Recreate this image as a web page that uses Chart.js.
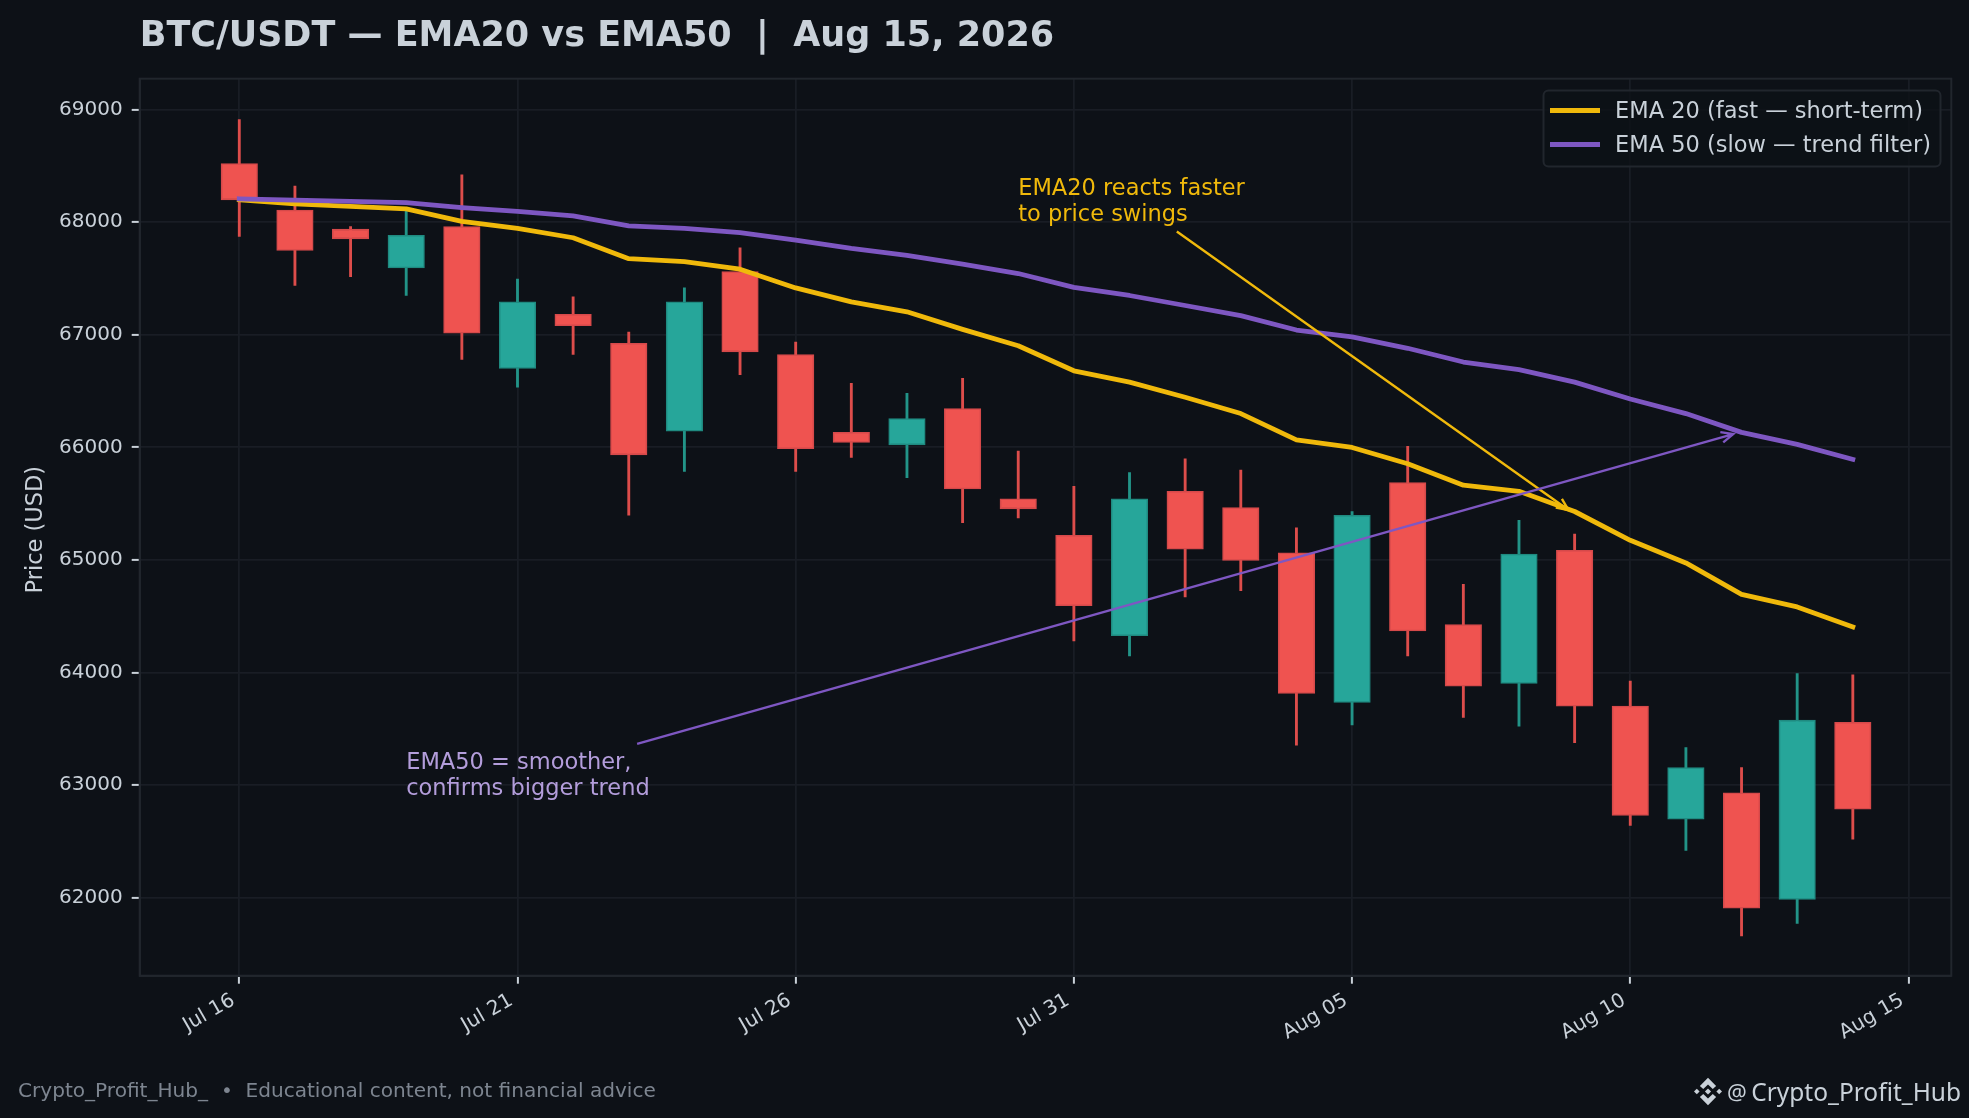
<!DOCTYPE html>
<html>
<head>
<meta charset="utf-8">
<title>BTC/USDT EMA20 vs EMA50</title>
<script src="https://cdn.jsdelivr.net/npm/chart.js@4/dist/chart.umd.min.js"></script>
<style>
    html, body { margin: 0; padding: 0; background: #0d1117; }
    canvas { display: block; }
</style>
</head>
<body>
<canvas id="chart" width="1969" height="1118"></canvas>
<script>
const days = [0, 1, 2, 3, 4, 5, 6, 7, 8, 9, 10, 11, 12, 13, 14, 15, 16, 17, 18, 19, 20, 21, 22, 23, 24, 25, 26, 27, 28, 29];
const opens = [68521, 68108, 67940, 67594, 67962, 66702, 67182, 66925, 66144, 67561, 66825, 66133, 66021, 66345, 65542, 65218, 64326, 65609, 65464, 65062, 63734, 65687, 64426, 63902, 65084, 63701, 62697, 62931, 61983, 63556];
const closes = [68197, 67750, 67851, 67884, 67014, 67293, 67081, 65932, 67293, 66847, 65988, 66044, 66256, 65631, 65452, 64593, 65542, 65095, 64995, 63813, 65397, 64370, 63879, 65051, 63701, 62730, 63154, 61905, 63578, 62786];
const highs = [68911, 68320, 67962, 68096, 68420, 67494, 67338, 67025, 67416, 67773, 66936, 66568, 66479, 66613, 65966, 65653, 65776, 65899, 65798, 65285, 65430, 66010, 64783, 65352, 65229, 63924, 63333, 63154, 63991, 63980];
const lows = [67873, 67438, 67516, 67349, 66780, 66535, 66825, 65397, 65787, 66646, 65787, 65910, 65731, 65330, 65374, 64281, 64147, 64672, 64727, 63355, 63534, 64147, 63601, 63522, 63377, 62641, 62418, 61659, 61771, 62518];
const ema20 = [68200, 68163, 68141, 68119, 68007, 67945, 67862, 67676, 67650, 67583, 67416, 67293, 67204, 67048, 66903, 66680, 66579, 66445, 66300, 66066, 65999, 65854, 65664, 65609, 65430, 65174, 64973, 64694, 64582, 64404];
const ema50 = [68208, 68197, 68186, 68174, 68130, 68096, 68056, 67968, 67946, 67907, 67840, 67767, 67706, 67628, 67544, 67421, 67349, 67260, 67170, 67042, 66981, 66880, 66758, 66691, 66579, 66429, 66300, 66133, 66026, 65893];
const tickDays = [0, 5, 10, 15, 20, 25, 30];
const tickLabels = ['Jul 16', 'Jul 21', 'Jul 26', 'Jul 31', 'Aug 05', 'Aug 10', 'Aug 15'];
const priceTicks = [62000, 63000, 64000, 65000, 66000, 67000, 68000, 69000];

const titleText = 'BTC/USDT \u2014 EMA20 vs EMA50  |  Aug 15, 2026';
const footerText = 'Crypto_Profit_Hub_  \u2022  Educational content, not financial advice';
const handleAt = '@';
const handleText = 'Crypto_Profit_Hub';
const yTitle = 'Price (USD)';
const label20 = 'EMA 20 (fast \u2014 short-term)';
const label50 = 'EMA 50 (slow \u2014 trend filter)';

// annotation text and arrow ends in data units
const fastNote = ['EMA20 reacts faster', 'to price swings'];
const fastNoteAt = [14, 68290];
const fastArrow = [[16.85, 67918], [23.89, 65443]];
const slowNote = ['EMA50 = smoother,', 'confirms bigger trend'];
const slowNoteAt = [3, 63190];
const slowArrow = [[7.15, 63366], [26.85, 66118]];

const BG = '#0d1117';
const GRID = '#191d25';
const SPINE = '#21262d';
const TEXT = '#c9d1d9';
const RED = '#ef5350';
const GREEN = '#26a69a';
const YELLOW = '#f0b90b';
const PURPLE = '#7e57c2';

function candleColor(i, up, down) {
    return closes[i] >= opens[i] ? up : down;
}

function arrow(ctx, x0, y0, x1, y1, color) {
    let a = Math.atan2(y1 - y0, x1 - x0);
    ctx.strokeStyle = color;
    ctx.lineWidth = 2.4;
    ctx.lineJoin = 'miter';
    ctx.beginPath();
    ctx.moveTo(x0, y0);
    ctx.lineTo(x1, y1);
    ctx.moveTo(x1 - 13 * Math.cos(a - 0.42), y1 - 13 * Math.sin(a - 0.42));
    ctx.lineTo(x1, y1);
    ctx.lineTo(x1 - 13 * Math.cos(a + 0.42), y1 - 13 * Math.sin(a + 0.42));
    ctx.stroke();
}

function binanceLogo(ctx, cx, cy, s) {
    // small diamond in the middle, two at the sides, chevrons top and bottom
    ctx.fillStyle = TEXT;
    [[0, 0, 0.22], [-0.8, 0, 0.2], [0.8, 0, 0.2]].forEach(d => {
        ctx.beginPath();
        ctx.moveTo(cx + d[0] * s, cy - d[2] * s);
        ctx.lineTo(cx + (d[0] + d[2]) * s, cy);
        ctx.lineTo(cx + d[0] * s, cy + d[2] * s);
        ctx.lineTo(cx + (d[0] - d[2]) * s, cy);
        ctx.fill();
    });
    [-1, 1].forEach(k => {
        ctx.beginPath();
        ctx.moveTo(cx, cy + k * 0.98 * s);
        ctx.lineTo(cx + 0.58 * s, cy + k * 0.4 * s);
        ctx.lineTo(cx + 0.34 * s, cy + k * 0.17 * s);
        ctx.lineTo(cx, cy + k * 0.5 * s);
        ctx.lineTo(cx - 0.34 * s, cy + k * 0.17 * s);
        ctx.lineTo(cx - 0.58 * s, cy + k * 0.4 * s);
        ctx.fill();
    });
}

const decorations = {
    id: 'decorations',
    beforeDraw(chart) {
        let ctx = chart.ctx;
        ctx.save();
        ctx.fillStyle = BG;
        ctx.fillRect(0, 0, chart.width, chart.height);
        ctx.restore();
    },
    afterDraw(chart) {
        let ctx = chart.ctx;
        let area = chart.chartArea;
        let x = chart.scales.x;
        let y = chart.scales.y;
        ctx.save();

        // frame
        ctx.strokeStyle = SPINE;
        ctx.lineWidth = 2;
        ctx.strokeRect(area.left, area.top, area.right - area.left, area.bottom - area.top);

        // arrows
        arrow(ctx, x.getPixelForValue(fastArrow[0][0]), y.getPixelForValue(fastArrow[0][1]),
            x.getPixelForValue(fastArrow[1][0]), y.getPixelForValue(fastArrow[1][1]), YELLOW);
        arrow(ctx, x.getPixelForValue(slowArrow[0][0]), y.getPixelForValue(slowArrow[0][1]),
            x.getPixelForValue(slowArrow[1][0]), y.getPixelForValue(slowArrow[1][1]), PURPLE);

        // notes
        ctx.font = '22.5px "DejaVu Sans"';
        ctx.textAlign = 'left';
        ctx.textBaseline = 'middle';
        ctx.fillStyle = YELLOW;
        fastNote.forEach((line, i) => {
            ctx.fillText(line, x.getPixelForValue(fastNoteAt[0]), y.getPixelForValue(fastNoteAt[1]) + i * 25.2);
        });
        ctx.fillStyle = '#b39ddb';
        slowNote.forEach((line, i) => {
            ctx.fillText(line, x.getPixelForValue(slowNoteAt[0]), y.getPixelForValue(slowNoteAt[1]) + i * 25.2);
        });

        // legend
        ctx.fillStyle = 'rgba(13, 17, 23, 0.8)';
        ctx.strokeStyle = SPINE;
        ctx.lineWidth = 2;
        ctx.beginPath();
        ctx.roundRect(1543.5, 90.5, 397, 76, 5);
        ctx.fill();
        ctx.stroke();
        ctx.font = '22.5px "DejaVu Sans"';
        ctx.fillStyle = TEXT;
        ctx.fillText(label20, 1615, 112.5);
        ctx.fillText(label50, 1615, 146.5);
        ctx.lineWidth = 5;
        ctx.strokeStyle = YELLOW;
        ctx.beginPath();
        ctx.moveTo(1550, 110.5);
        ctx.lineTo(1600, 110.5);
        ctx.stroke();
        ctx.strokeStyle = PURPLE;
        ctx.beginPath();
        ctx.moveTo(1550, 144.5);
        ctx.lineTo(1600, 144.5);
        ctx.stroke();

        // y axis title
        ctx.save();
        ctx.translate(36.5, 529.7);
        ctx.rotate(-Math.PI / 2);
        ctx.textAlign = 'center';
        ctx.fillStyle = TEXT;
        ctx.fillText(yTitle, 0, 0);
        ctx.restore();

        // footer
        ctx.font = '20.08px "DejaVu Sans"';
        ctx.fillStyle = '#7d8590';
        ctx.fillText(footerText, 18, 1091.5);
        ctx.fillStyle = TEXT;
        ctx.font = '22px "Noto Sans"';
        ctx.fillText(handleAt, 1727, 1094);
        ctx.font = '24.5px "Noto Sans"';
        ctx.textAlign = 'right';
        ctx.fillText(handleText, 1961, 1094);
        binanceLogo(ctx, 1708, 1091.5, 14);
        ctx.restore();
    }
};

new Chart(document.getElementById('chart'), {
    data: {
        datasets: [
            {
                type: 'line',
                label: label50,
                data: days.map((d, i) => ({ x: d, y: ema50[i] })),
                borderColor: PURPLE,
                borderWidth: 4.8,
                borderCapStyle: 'square',
                borderJoinStyle: 'round',
                pointRadius: 0,
                tension: 0,
                order: 1
            },
            {
                type: 'line',
                label: label20,
                data: days.map((d, i) => ({ x: d, y: ema20[i] })),
                borderColor: YELLOW,
                borderWidth: 4.8,
                borderCapStyle: 'square',
                borderJoinStyle: 'round',
                pointRadius: 0,
                tension: 0,
                order: 2
            },
            {
                type: 'bar',
                label: 'Body',
                data: days.map((d, i) => ({ x: d, y: [opens[i], closes[i]] })),
                backgroundColor: days.map((d, i) => candleColor(i, GREEN, RED)),
                borderColor: days.map((d, i) => candleColor(i, '#1f8a80', '#d5494a')),
                borderWidth: 1.5,
                borderSkipped: false,
                barThickness: 36.5,
                grouped: false,
                order: 3
            },
            {
                type: 'bar',
                label: 'Wick',
                data: days.map((d, i) => ({ x: d, y: [lows[i], highs[i]] })),
                backgroundColor: days.map((d, i) => candleColor(i, '#229488', '#dd4d4b')),
                borderWidth: 0,
                barThickness: 2.2,
                grouped: false,
                order: 4
            }
        ]
    },
    options: {
        responsive: false,
        animation: false,
        devicePixelRatio: 1,
        layout: { padding: { left: 15, right: 17.7, top: 0, bottom: 0 } },
        plugins: {
            legend: { display: false },
            tooltip: { enabled: false },
            title: {
                display: true,
                text: titleText,
                align: 'start',
                fullSize: false,
                color: TEXT,
                font: { family: '"DejaVu Sans"', size: 35, weight: 'bold' },
                padding: { top: 15.5, bottom: 21.2 }
            }
        },
        scales: {
            x: {
                type: 'linear',
                min: -1.79,
                max: 30.77,
                offset: false,
                grid: { color: GRID, lineWidth: 1.8, offset: false, tickColor: TEXT, tickLength: 8, tickWidth: 2 },
                border: { color: SPINE, width: 2 },
                afterBuildTicks(scale) {
                    scale.ticks = tickDays.map(v => ({ value: v }));
                },
                afterFit(scale) {
                    scale.height = 142.3;
                },
                ticks: {
                    color: TEXT,
                    autoSkip: false,
                    minRotation: 30,
                    maxRotation: 30,
                    padding: 5,
                    labelOffset: -6,
                    font: { family: '"DejaVu Sans"', size: 20 },
                    callback: v => tickLabels[tickDays.indexOf(v)]
                }
            },
            y: {
                type: 'linear',
                min: 61306,
                max: 69275,
                grid: { color: GRID, lineWidth: 1.8, tickColor: TEXT, tickLength: 8, tickWidth: 2 },
                border: { color: SPINE, width: 2 },
                afterBuildTicks(scale) {
                    scale.ticks = priceTicks.map(v => ({ value: v }));
                },
                afterFit(scale) {
                    scale.width = 124.7;
                },
                ticks: {
                    color: TEXT,
                    padding: 9,
                    font: { family: '"DejaVu Sans"', size: 20 },
                    callback: v => String(v)
                }
            }
        }
    },
    plugins: [decorations]
});
</script>
</body>
</html>
